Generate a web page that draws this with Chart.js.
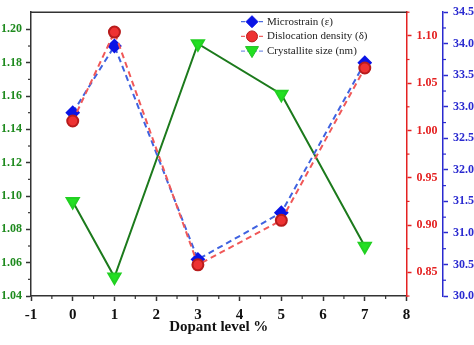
<!DOCTYPE html>
<html>
<head>
<meta charset="utf-8">
<script src="https://cdn.jsdelivr.net/npm/chart.js@4"></script>
<style>
html, body { margin: 0; padding: 0; background: #fff; }
#wrap { width: 474px; height: 345px; }
</style>
</head>
<body>
<div id="wrap"><canvas id="dopantChart"></canvas></div>
<script>
// values
var dopantLevels = [0, 1, 3, 5, 7];
var microstrain = [1.150, 1.190, 1.062, 1.090, 1.180];
var dislocationDensity = [1.010, 1.104, 0.858, 0.905, 1.066];
var crystalliteSize = [31.50, 30.30, 34.00, 33.20, 30.79];

var seriesLabels = ['Microstrain (\u03b5)', 'Dislocation density (\u03b4)', 'Crystallite size (nm)'];

// axis ticks
var xTicks = [-1, 0, 1, 2, 3, 4, 5, 6, 7, 8];
var leftTicks = [1.04, 1.06, 1.08, 1.10, 1.12, 1.14, 1.16, 1.18, 1.20];
var redTicks = [0.85, 0.90, 0.95, 1.00, 1.05, 1.10];
var blueTicks = [30.0, 30.5, 31.0, 31.5, 32.0, 32.5, 33.0, 33.5, 34.0, 34.5];
var xMinor = [-0.5, 0.5, 1.5, 2.5, 3.5, 4.5, 5.5, 6.5, 7.5];
var leftMinor = [1.05, 1.07, 1.09, 1.11, 1.13, 1.15, 1.17, 1.19];
var redMinor = [0.825, 0.875, 0.925, 0.975, 1.025, 1.075, 1.125];
var blueMinor = [30.25, 30.75, 31.25, 31.75, 32.25, 32.75, 33.25, 33.75, 34.25];

var GREEN_TXT = '#1e8a1e';
var RED = '#e42222';
var BLUE = '#2a2ad0';
var AXIS = '#333333';

function toPoints(xs, ys) {
    return xs.map(function (x, i) { return { x: x, y: ys[i] }; });
}

function setTicks(values) {
    return function (scale) {
        scale.ticks = values.map(function (v) { return { value: v }; });
    };
}

var minorTicks = {
    id: 'minorTicks',
    afterDraw: function (chart) {
        var ctx = chart.ctx;
        var s = chart.scales;
        ctx.save();
        ctx.lineWidth = 1.2;
        ctx.strokeStyle = AXIS;
        xMinor.forEach(function (v) {
            var px = s.x.getPixelForValue(v);
            ctx.beginPath(); ctx.moveTo(px, s.x.top); ctx.lineTo(px, s.x.top + 3); ctx.stroke();
        });
        leftMinor.forEach(function (v) {
            var py = s.y.getPixelForValue(v);
            ctx.beginPath(); ctx.moveTo(s.y.right, py); ctx.lineTo(s.y.right - 3, py); ctx.stroke();
        });
        ctx.strokeStyle = RED;
        redMinor.forEach(function (v) {
            var py = s.y1.getPixelForValue(v);
            ctx.beginPath(); ctx.moveTo(s.y1.left, py); ctx.lineTo(s.y1.left + 3, py); ctx.stroke();
        });
        ctx.strokeStyle = BLUE;
        blueMinor.forEach(function (v) {
            var py = s.y2.getPixelForValue(v);
            ctx.beginPath(); ctx.moveTo(s.y2.left, py); ctx.lineTo(s.y2.left + 3, py); ctx.stroke();
        });
        // top frame line
        ctx.strokeStyle = AXIS;
        ctx.lineWidth = 1.5;
        ctx.beginPath();
        ctx.moveTo(chart.chartArea.left, chart.chartArea.top);
        ctx.lineTo(chart.chartArea.right, chart.chartArea.top);
        ctx.stroke();
        ctx.restore();
    }
};

function drawMarker(ctx, kind, x, y, fill, stroke) {
    ctx.fillStyle = fill;
    ctx.strokeStyle = stroke;
    ctx.lineWidth = 1;
    ctx.beginPath();
    if (kind === 'diamond') {
        ctx.moveTo(x, y - 6); ctx.lineTo(x + 6, y); ctx.lineTo(x, y + 6); ctx.lineTo(x - 6, y);
    } else if (kind === 'circle') {
        ctx.arc(x, y, 5.5, 0, Math.PI * 2);
    } else {
        ctx.moveTo(x - 6.5, y - 4.5); ctx.lineTo(x + 6.5, y - 4.5); ctx.lineTo(x, y + 6.5);
    }
    ctx.closePath();
    ctx.fill();
    ctx.stroke();
}

// legend drawn by hand: dashed line with the marker in the middle
var lineLegend = {
    id: 'lineLegend',
    afterDatasetsDraw: function (chart) {
        var ctx = chart.ctx;
        var a = chart.chartArea;
        var x0 = a.left + 210;
        var items = [
            { kind: 'diamond', line: '#4a6ae0', fill: '#0a14e6', stroke: '#0a14e6' },
            { kind: 'circle', line: '#f06060', fill: '#ee3030', stroke: '#b81c1c' },
            { kind: 'tri', line: '#7f95e8', fill: '#22e022', stroke: '#22c022' }
        ];
        ctx.save();
        items.forEach(function (it, i) {
            var y = a.top + 9.5 + i * 14.7;
            ctx.strokeStyle = it.line;
            ctx.lineWidth = 1.3;
            ctx.setLineDash([4, 2]);
            ctx.beginPath(); ctx.moveTo(x0, y); ctx.lineTo(x0 + 22, y); ctx.stroke();
            ctx.setLineDash([]);
            drawMarker(ctx, it.kind, x0 + 11, y, it.fill, it.stroke);
            ctx.fillStyle = '#222';
            ctx.font = '11px "Liberation Serif"';
            ctx.textBaseline = 'middle';
            ctx.textAlign = 'left';
            ctx.fillText(seriesLabels[i], x0 + 26, y);
        });
        ctx.restore();
    }
};

var tickFont = { family: 'Liberation Serif', size: 12, weight: 'bold' };

var ctx = document.getElementById('dopantChart').getContext('2d');
var chart = new Chart(ctx, {
    type: 'line',
    data: {
        datasets: [{
            label: seriesLabels[0],
            data: toPoints(dopantLevels, microstrain),
            yAxisID: 'y',
            borderColor: '#3f62e0',
            borderWidth: 2,
            borderDash: [6, 4],
            pointStyle: 'rectRot',
            pointRadius: 6,
            pointBackgroundColor: '#0a14e6',
            pointBorderColor: '#0a14e6',
            order: 1
        }, {
            label: seriesLabels[1],
            data: toPoints(dopantLevels, dislocationDensity),
            yAxisID: 'y1',
            borderColor: '#f05858',
            borderWidth: 2,
            borderDash: [6, 4],
            pointStyle: 'circle',
            pointRadius: 5.5,
            pointBackgroundColor: '#ee3232',
            pointBorderColor: '#b81c1c',
            order: 0
        }, {
            label: seriesLabels[2],
            data: toPoints(dopantLevels, crystalliteSize),
            yAxisID: 'y2',
            borderColor: '#1c7a1c',
            borderWidth: 2,
            pointStyle: 'triangle',
            rotation: 180,
            pointRadius: 7,
            pointBackgroundColor: '#22e022',
            pointBorderColor: '#22d022',
            order: 2
        }]
    },
    options: {
        responsive: true,
        maintainAspectRatio: false,
        animation: false,
        layout: { padding: { top: 6, left: 0, right: 0, bottom: 0 } },
        plugins: {
            legend: { display: false },
            tooltip: { enabled: false }
        },
        scales: {
            x: {
                type: 'linear',
                min: -1,
                max: 8,
                afterBuildTicks: setTicks(xTicks),
                afterFit: function (s) { s.height = 49; },
                grid: { drawOnChartArea: false, tickLength: 5, color: AXIS, tickWidth: 1.5 },
                border: { color: AXIS, width: 1.5 },
                ticks: {
                    color: '#111',
                    font: { family: 'Liberation Serif', size: 15, weight: 'bold' },
                    padding: 5,
                    maxRotation: 0,
                    autoSkip: false
                },
                title: {
                    display: true,
                    text: 'Dopant level %',
                    color: '#111',
                    font: { family: 'Liberation Serif', size: 15, weight: 'bold' },
                    padding: { top: 0, bottom: 9 }
                }
            },
            y: {
                position: 'left',
                min: 1.04,
                max: 1.2103,
                afterBuildTicks: setTicks(leftTicks),
                afterFit: function (s) { s.width = 31; },
                grid: { drawOnChartArea: false, tickLength: 5, color: AXIS, tickWidth: 1.5 },
                border: { color: AXIS, width: 1.5 },
                ticks: {
                    color: GREEN_TXT, font: tickFont, padding: 4, autoSkip: false,
                    callback: function (v) { return v.toFixed(2); }
                }
            },
            y1: {
                position: 'right',
                weight: 0,
                min: 0.825,
                max: 1.125,
                afterBuildTicks: setTicks(redTicks),
                afterFit: function (s) { s.width = 36.5; },
                grid: { drawOnChartArea: false, tickLength: 5, color: RED, tickWidth: 1.5 },
                border: { color: RED, width: 1.5 },
                ticks: {
                    color: RED, font: tickFont, padding: 5, autoSkip: false,
                    callback: function (v) { return v.toFixed(2); }
                }
            },
            y2: {
                position: 'right',
                weight: 1,
                min: 30,
                max: 34.5,
                afterBuildTicks: setTicks(blueTicks),
                afterFit: function (s) { s.width = 31; },
                grid: { drawOnChartArea: false, tickLength: 5, color: BLUE, tickWidth: 1.5 },
                border: { color: BLUE, width: 1.5 },
                ticks: {
                    color: BLUE, font: tickFont, padding: 5, autoSkip: false,
                    callback: function (v) { return v.toFixed(1); }
                }
            }
        }
    },
    plugins: [minorTicks, lineLegend]
});
</script>
</body>
</html>
